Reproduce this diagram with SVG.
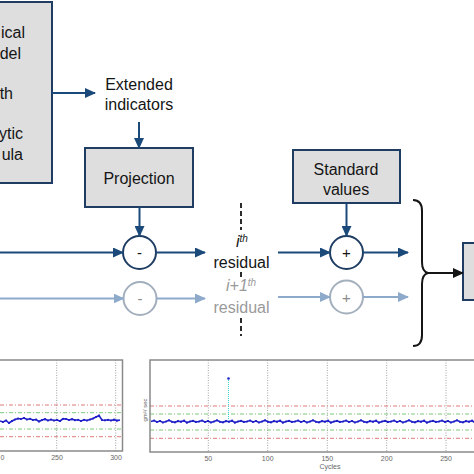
<svg xmlns="http://www.w3.org/2000/svg" width="474" height="474" viewBox="0 0 474 474">
<defs>
<style>
.box{fill:#dedede;stroke:#1f3d63;stroke-width:2}
.t{font-family:"Liberation Sans",Arial,sans-serif;font-size:16px;fill:#151515}
.tc{text-anchor:middle}
.dk{stroke:#1b4a7a;stroke-width:2;fill:none}
.lt{stroke:#8eaacb;stroke-width:2;fill:none}
.bk{stroke:#151515;stroke-width:2;fill:none}
.cd{fill:#fff;stroke:#1f3d63;stroke-width:2}
.cl{fill:#fff;stroke:#a3afbd;stroke-width:2}
.frame{fill:none;stroke:#8a8a8a;stroke-width:1.5}
.grid{stroke:#8a8a8a;stroke-width:0.8;stroke-dasharray:1,1.5}
.red{stroke:#e07a7a;stroke-width:1;stroke-dasharray:4,2,1,2}
.grn{stroke:#7acc7a;stroke-width:1;stroke-dasharray:4,2,1,2}
.data{fill:none;stroke:#2020c8;stroke-width:1.6}
.tk{font-family:"Liberation Sans",Arial,sans-serif;font-size:7px;fill:#666;text-anchor:middle}
</style>
<marker id="aD" markerUnits="userSpaceOnUse" markerWidth="11" markerHeight="10" refX="10" refY="5" orient="auto"><path d="M0,0 L11,5 L0,10 z" fill="#1b4a7a"/></marker>
<marker id="aL" markerUnits="userSpaceOnUse" markerWidth="11" markerHeight="10" refX="10" refY="5" orient="auto"><path d="M0,0 L11,5 L0,10 z" fill="#8eaacb"/></marker>
<marker id="aB" markerUnits="userSpaceOnUse" markerWidth="11" markerHeight="10" refX="10" refY="5" orient="auto"><path d="M0,0 L11,5 L0,10 z" fill="#151515"/></marker>
<marker id="dot" markerUnits="userSpaceOnUse" markerWidth="3" markerHeight="3" refX="1.5" refY="1.5"><circle cx="1.5" cy="1.5" r="1.1" fill="#2020c8"/></marker>
</defs>
<rect width="474" height="474" fill="#fff"/>

<g id="model">
<rect class="box" x="-10" y="2" width="62" height="181"/>
<text class="t" x="25" y="38" text-anchor="end">ical</text>
<text class="t" x="21" y="59" text-anchor="end">del</text>
<text class="t" x="13" y="99" text-anchor="end">th</text>
<text class="t" x="23" y="139" text-anchor="end">ytic</text>
<text class="t" x="23" y="160" text-anchor="end">ula</text>
</g>

<g id="extended">
<text class="t tc" x="139" y="90">Extended</text>
<text class="t tc" x="139" y="110">indicators</text>
</g>

<g id="projection">
<rect class="box" x="85" y="148" width="108" height="59"/>
<text class="t tc" x="139" y="184">Projection</text>
</g>

<g id="standard">
<rect class="box" x="293" y="150" width="107" height="53"/>
<text class="t tc" x="346" y="175">Standard</text>
<text class="t tc" x="346" y="195">values</text>
</g>

<g id="minus1"><circle class="cd" cx="139.5" cy="252.5" r="16.5"/><text class="t tc" x="139.5" y="258" style="font-size:15px">-</text></g>
<g id="minus2"><circle class="cl" cx="140" cy="298.5" r="16.5"/><text class="t tc" x="140" y="304" style="font-size:15px;fill:#8a8a8a">-</text></g>
<g id="plus1"><circle class="cd" cx="346.5" cy="252.5" r="16.5"/><text class="t tc" x="346.5" y="258" style="font-size:15px">+</text></g>
<g id="plus2"><circle class="cl" cx="346.5" cy="297" r="16.5"/><text class="t tc" x="346.5" y="302.5" style="font-size:15px;fill:#8a8a8a">+</text></g>

<g id="residuals">
<text class="t" x="236" y="247"><tspan font-style="italic">i</tspan><tspan font-style="italic" font-size="10" dy="-5">th</tspan></text>
<text class="t tc" x="241.5" y="268">residual</text>
<text class="t" x="226" y="291" style="fill:#9a9a9a"><tspan font-style="italic">i+1</tspan><tspan font-style="italic" font-size="10" dy="-5">th</tspan></text>
<text class="t tc" x="241.5" y="313" style="fill:#9a9a9a">residual</text>
</g>

<g id="output">
<rect class="box" x="463" y="243" width="20" height="57"/>
</g>

<g id="connectors">
<line class="dk" x1="52" y1="93" x2="95" y2="93" marker-end="url(#aD)"/>
<line class="dk" x1="139" y1="122" x2="139" y2="148" marker-end="url(#aD)"/>
<line class="dk" x1="139.5" y1="207" x2="139.5" y2="236" marker-end="url(#aD)"/>
<line class="dk" x1="0" y1="252.5" x2="123" y2="252.5" marker-end="url(#aD)"/>
<line class="dk" x1="156" y1="252.5" x2="205" y2="252.5" marker-end="url(#aD)"/>
<line class="lt" x1="0" y1="298.5" x2="123.5" y2="298.5" marker-end="url(#aL)"/>
<line class="lt" x1="156.5" y1="298.5" x2="205" y2="298.5" marker-end="url(#aL)"/>
<line class="dk" x1="346.5" y1="203" x2="346.5" y2="236" marker-end="url(#aD)"/>
<line class="dk" x1="278" y1="252.5" x2="330" y2="252.5" marker-end="url(#aD)"/>
<line class="dk" x1="363" y1="252.5" x2="408" y2="252.5" marker-end="url(#aD)"/>
<line class="lt" x1="278" y1="297" x2="330" y2="297" marker-end="url(#aL)"/>
<line class="lt" x1="363" y1="297" x2="408" y2="297" marker-end="url(#aL)"/>
<path class="bk" d="M413,200 C419,200 422,204 422,211 L422,262 C422,268 424,272 428,273 C424,274 422,278 422,284 L422,335 C422,342 419,346 413,346"/>
<line class="bk" x1="428" y1="273" x2="463" y2="273" marker-end="url(#aB)"/>
<path d="M241,203 V230 M241,272 V277 M241,318 V336" stroke="#151515" stroke-width="1.8" stroke-dasharray="5,3"/>
</g>

<g id="chart-left">
<line class="grid" x1="56.7" y1="360" x2="56.7" y2="451"/>
<line class="grid" x1="115.7" y1="360" x2="115.7" y2="451"/>
<line class="red" x1="0" y1="405" x2="122" y2="405"/>
<line class="grn" x1="0" y1="412.7" x2="122" y2="412.7"/>
<line class="grn" x1="0" y1="429" x2="122" y2="429"/>
<line class="red" x1="0" y1="436.7" x2="122" y2="436.7"/>
<polyline class="data" marker-mid="url(#dot)" points="0,421 3,422 6,420.5 9,423 12,421 15,419.5 18,418.5 21,419 24,418 27,419.5 30,418.8 33,420 36,419.5 39,421.5 42,420 45,419.2 48,420.5 51,419.5 54,420.5 57,420 60,421 63,418.8 66,419 69,420 72,419.2 75,420.2 78,419.8 81,421 84,419.8 87,420.5 90,419.5 93,418.5 96,417 99,415.5 102,420 105,420.3 108,419.8 111,420.5 114,419.7 117,420.6 120,420"/>
<path class="frame" d="M-5,360 H122.5 V451 H-5"/>
<text class="tk" x="2.5" y="460">0</text>
<text class="tk" x="57" y="460">250</text>
<text class="tk" x="116" y="460">300</text>
</g>

<g id="chart-right">
<line class="grid" x1="208.3" y1="360" x2="208.3" y2="452"/>
<line class="grid" x1="267.7" y1="360" x2="267.7" y2="452"/>
<line class="grid" x1="327.3" y1="360" x2="327.3" y2="452"/>
<line class="grid" x1="386.7" y1="360" x2="386.7" y2="452"/>
<line class="grid" x1="446" y1="360" x2="446" y2="452"/>
<line class="red" x1="150" y1="406" x2="474" y2="406"/>
<line class="grn" x1="150" y1="414" x2="474" y2="414"/>
<line class="grn" x1="150" y1="430" x2="474" y2="430"/>
<line class="red" x1="150" y1="438.3" x2="474" y2="438.3"/>
<line x1="228.5" y1="380" x2="228.5" y2="419" stroke="#3fd0d0" stroke-width="1" stroke-dasharray="1,1"/>
<circle cx="228.5" cy="378.5" r="1.3" fill="#2020c8"/>
<polyline class="data" marker-mid="url(#dot)" points="151,421.5 154,420.5 157,422 160,421 163,422.5 166,421.5 169,420.3 172,421.8 175,422.3 178,421.1 181,421.7 184,420.7 187,422.6 190,421.5 193,420.9 196,421.9 199,421.5 202,420.5 205,422 208,421 211,422.5 214,421.5 217,420.3 220,421.8 223,422.3 226,421.1 229,421.7 232,420.7 235,422.6 238,421.5 241,420.9 244,421.9 247,421.5 250,420.5 253,422 256,421 259,422.5 262,421.5 265,420.3 268,421.8 271,422.3 274,421.1 277,421.7 280,420.7 283,422.6 286,421.5 289,420.9 292,421.9 295,421.5 298,420.5 301,422 304,421 307,422.5 310,421.5 313,420.3 316,421.8 319,422.3 322,421.1 325,421.7 328,420.7 331,422.6 334,421.5 337,420.9 340,421.9 343,421.5 346,420.5 349,422 352,421 355,422.5 358,421.5 361,420.3 364,421.8 367,422.3 370,421.1 373,421.7 376,420.7 379,422.6 382,421.5 385,420.9 388,421.9 391,421.5 394,420.5 397,422 400,421 403,422.5 406,421.5 409,420.3 412,421.8 415,422.3 418,421.1 421,421.7 424,420.7 427,422.6 430,421.5 433,420.9 436,421.9 439,421.5 442,420.5 445,422 448,421 451,422.5 454,421.5 457,420.3 460,421.8 463,422.3 466,421.1 469,421.7 472,420.7 475,422.6"/>
<path class="frame" d="M480,360 H150 V452 H480"/>
<text class="tk" x="208.3" y="461">50</text>
<text class="tk" x="267.7" y="461">100</text>
<text class="tk" x="327.3" y="461">150</text>
<text class="tk" x="386.7" y="461">200</text>
<text class="tk" x="446" y="461">250</text>
<text class="tk" x="330" y="469">Cycles</text>
<text class="tk" transform="translate(147,410) rotate(-90)" style="font-size:6px">gm²/ sec</text>
</g>
</svg>
